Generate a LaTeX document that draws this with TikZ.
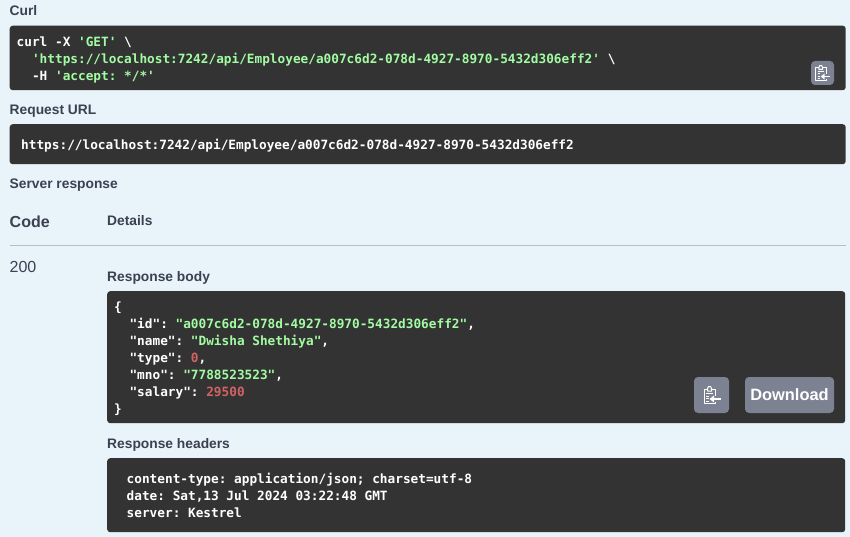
\documentclass[tikz,border=0pt]{standalone}
\usepackage{fontspec}
\setmainfont{Liberation Sans}
\setmonofont{DejaVu Sans Mono}
\usepackage{xcolor}
\usetikzlibrary{positioning, calc}

\definecolor{PageBlue}{HTML}{E8F3FA}
\definecolor{PanelGrey}{HTML}{333333}
\definecolor{LabelGrey}{HTML}{3B4151}
\definecolor{ButtonGrey}{HTML}{7D8293}
\definecolor{RuleGrey}{HTML}{B4BFC9}
\definecolor{CodeGreen}{HTML}{A2FCA2}
\definecolor{CodeRed}{HTML}{D36363}

\newcommand{\Green}[1]{\textcolor{CodeGreen}{#1}}
\newcommand{\Red}[1]{\textcolor{CodeRed}{#1}}
\newcommand{\Ind}{\hspace*{15.35pt}}

\begin{document}
\begin{tikzpicture}[x=1pt, y=1pt,
					CodePanel/.style={fill=PanelGrey, rounded corners=3pt, inner sep=0pt, anchor=north west},
					CodeText/.style={text=white, inner sep=0pt, anchor=north west, align=left, font=\fontsize{12.75}{17}\selectfont\ttfamily\bfseries},
					HeadLabel/.style={text=LabelGrey, inner sep=0pt, anchor=base west, font=\fontsize{13.8}{16}\selectfont\bfseries},
					BigLabel/.style={text=LabelGrey, inner sep=0pt, anchor=base west, font=\fontsize{16}{18}\selectfont\bfseries},
					CopyButton/.style={fill=ButtonGrey, rounded corners=4pt, inner sep=0pt, text=white, font=\fontsize{16.4}{20}\selectfont\bfseries},
					CopyIcon/.pic={
						\draw[white, line width=1pt, line join=round] (4,-7) -- (4,-8.5) -- (-7.5,-8.5) -- (-7.5,6) -- (-4,6) (0,6) -- (4,6) -- (4,-1);
						\draw[white, line width=1pt, line join=round] (-4,4) -- (-4,6.5) -- (-3,8.5) -- (-1,8.5) -- (0,6.5) -- (0,4) -- cycle;
						\draw[white, line width=0.9pt] (-5.5,1.5) -- (1.5,1.5) (-5.5,-1) -- (-2.5,-1) (-5.5,-3.5) -- (-3,-3.5) (-5.5,-6) -- (-2.5,-6);
						\draw[white, line width=1.6pt] (9,-4) -- (0,-4);
						\fill[white] (-2,-4) -- (2.5,-0.5) -- (2.5,-7.5) -- cycle;
					}]

	\fill[PageBlue] (0,0) rectangle (850,-537);
	\useasboundingbox (0,0) rectangle (850,-537);

	% top panels
	\node[HeadLabel] (CurlLabel) at (9.5,-15.5) {Curl};
	\node[CodePanel, minimum width=836pt, minimum height=64.5pt] (CurlPanel) at (9.5,-25.5) {};
	\node[CodeText] (CurlText) at ($(CurlPanel.north west) + (7,-11)$) {curl -X \Green{'GET'} \textbackslash\\
		\Ind\Green{'https://localhost:7242/api/Employee/a007c6d2-078d-4927-8970-5432d306eff2'} \textbackslash\\
		\Ind-H \Green{'accept: */*'}};
	\node[CopyButton, minimum width=23pt, minimum height=24pt] (CurlCopy) at (822.5,-73) {};
	\pic[scale=0.88] at (CurlCopy) {CopyIcon};

	\node[HeadLabel] (UrlLabel) at (9.5,-115) {Request URL};
	\node[CodePanel, minimum width=836pt, minimum height=40pt] (UrlPanel) at (9.5,-124) {};
	\node[CodeText] (UrlText) at ($(UrlPanel.north west) + (11.5,-15)$) {https://localhost:7242/api/Employee/a007c6d2-078d-4927-8970-5432d306eff2};

	% response table
	\node[HeadLabel] (ServerLabel) at (9.5,-188.5) {Server response};
	\node[BigLabel] (CodeLabel) at (9.5,-227) {Code};
	\node[HeadLabel] (DetailsLabel) at (107,-225.5) {Details};
	\coordinate (RuleLeft) at (9.5,-245);
	\coordinate (RuleRight) at (846,-245);
	\draw[RuleGrey, line width=1pt] (RuleLeft) -- (RuleRight);
	\node[text=LabelGrey, inner sep=0pt, anchor=base west, font=\fontsize{16}{18}\selectfont] (StatusCode) at (9.5,-272) {200};

	\node[HeadLabel] (BodyLabel) at (107,-281) {Response body};
	\node[CodePanel, minimum width=738pt, minimum height=132pt] (BodyPanel) at (107,-291) {};
	\node[CodeText] (BodyText) at ($(BodyPanel.north west) + (7,-10.5)$) {\{\\
		\Ind"id": \Green{"a007c6d2-078d-4927-8970-5432d306eff2"},\\
		\Ind"name": \Green{"Dwisha Shethiya"},\\
		\Ind"type": \Red{0},\\
		\Ind"mno": \Green{"7788523523"},\\
		\Ind"salary": \Red{29500}\\
		\}};
	\node[CopyButton, minimum width=35pt, minimum height=36pt] (BodyCopy) at (711.5,-395) {};
	\pic at (BodyCopy) {CopyIcon};
	\node[CopyButton, minimum width=89pt, minimum height=36pt] (Download) at (789.5,-395) {Download};

	\node[HeadLabel] (HeadersLabel) at (107,-448) {Response headers};
	\node[CodePanel, minimum width=738pt, minimum height=74pt] (HeadersPanel) at (107,-458) {};
	\node[CodeText] (HeadersText) at ($(HeadersPanel.north west) + (19.5,-14.5)$) {content-type: application/json; charset=utf-8\\
		date: Sat,13 Jul 2024 03:22:48 GMT\\
		server: Kestrel};
\end{tikzpicture}
\end{document}
